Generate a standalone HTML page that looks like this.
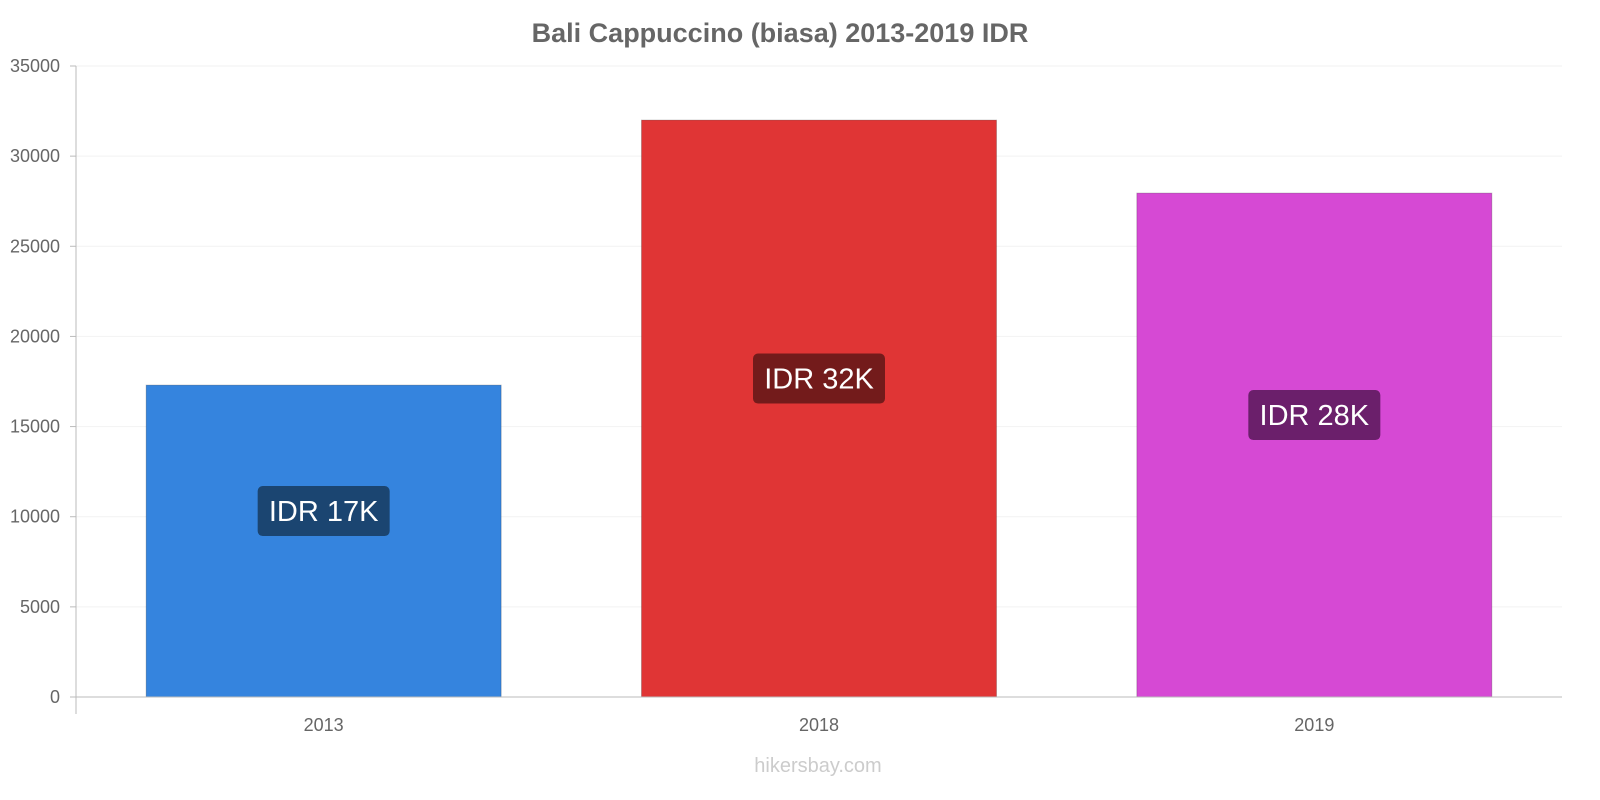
<!DOCTYPE html>
<html><head><meta charset="utf-8">
<style>
html,body{margin:0;padding:0;background:#fff;}
svg{display:block;font-family:"Liberation Sans",Arial,sans-serif;}
</style></head>
<body>
<svg id="chart" width="1600" height="800">
<text x="780" y="42" text-anchor="middle" font-size="27" font-weight="bold" fill="#666">Bali Cappuccino (biasa) 2013-2019 IDR</text>
<g id="grid"></g>
<g id="bars"></g>
<g id="axes"></g>
<text x="818" y="772" text-anchor="middle" font-size="20" fill="#ccc">hikersbay.com</text>
</svg>
<script>
const categories = ["2013","2018","2019"];
const values = [17300, 32000, 27950];
const labels = ["IDR 17K","IDR 32K","IDR 28K"];
const yTicks = [0,5000,10000,15000,20000,25000,30000,35000];
const barColors = ["#3584de","#e03535","#d649d4"];
const labelColors = ["#1b4571","#731b1b","#6b1f6b"];

const NS="http://www.w3.org/2000/svg";
const x0=76,x1=1562,y0=697,yTop=66,yMax=35000;
const y=v=>y0-(v/yMax)*(y0-yTop);
const bw=(x1-x0)/categories.length;
const xc=i=>x0+bw*(i+0.5);
function mk(tag,attrs,parent){const e=document.createElementNS(NS,tag);for(const k in attrs)e.setAttribute(k,attrs[k]);parent.appendChild(e);return e;}
const grid=document.getElementById('grid'),bars=document.getElementById('bars'),axes=document.getElementById('axes');
yTicks.forEach(t=>{
  if(t>0){const g=mk('line',{x1:x0,x2:x1,y1:y(t),y2:y(t),stroke:'#f2f2f2','stroke-width':1},grid);
  
  }
  const tk=mk('line',{x1:70,x2:76,y1:y(t),y2:y(t),stroke:'#bbb'},axes);
  
  
  const tx=mk('text',{x:60,y:y(t)+6,'text-anchor':'end','font-size':18,fill:'#666'},axes);
  tx.textContent=t;
  
  
});
const ya=mk('line',{x1:76,x2:76,y1:yTop,y2:714,stroke:'#bbb'},axes);


const xa=mk('line',{x1:70,x2:x1,y1:y0,y2:y0,stroke:'#bbb'},axes);


categories.forEach((c,i)=>{
  const w=355,cx=xc(i),top=y(values[i]);
  const r=mk('rect',{x:cx-w/2,y:top,width:w,height:y0-top,fill:barColors[i],stroke:'rgba(0,0,0,0.2)','stroke-width':1},bars);
  
  
  const ly=(top+y0)/2-30;
  const lw=132,lh=50;
  const lb=mk('rect',{x:cx-lw/2,y:ly-lh/2,width:lw,height:lh,rx:5,fill:labelColors[i]},bars);
  
  
  const lt=mk('text',{x:cx,y:ly+10,'text-anchor':'middle','font-size':29,fill:'#fff'},bars);
  lt.textContent=labels[i];
  
  
  const xt=mk('text',{x:cx,y:731,'text-anchor':'middle','font-size':18,fill:'#666'},axes);
  xt.textContent=c;
  
  
});
</script>
</body></html>
